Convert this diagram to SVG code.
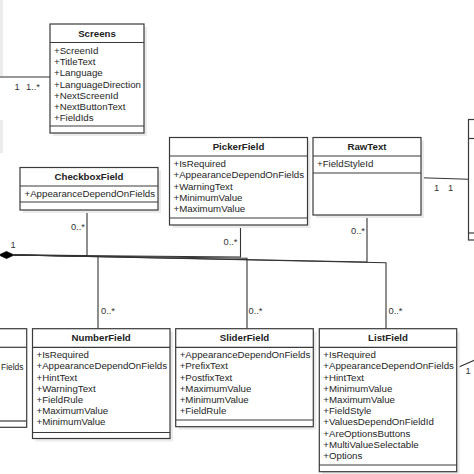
<svg xmlns="http://www.w3.org/2000/svg" width="474" height="474" viewBox="0 0 474 474">
<style>
.bg{fill:#ffffff}
.sh{fill:#ebebeb}
.box{fill:#ffffff;stroke:#3a3a3a;stroke-width:1.2}
.sep{stroke:#3a3a3a;stroke-width:1.2;fill:none}
.t{font-family:"Liberation Sans",Arial,sans-serif;font-size:9.7px;fill:#262626}
.h{font-family:"Liberation Sans",Arial,sans-serif;font-size:9.7px;font-weight:bold;fill:#222;text-anchor:middle}
.lbl{font-family:"Liberation Sans",Arial,sans-serif;font-size:9.3px;fill:#333}
.e{fill:none;stroke:#333;stroke-width:1.1}
</style>
<rect class="bg" x="0" y="0" width="474" height="474"/>
<rect class="sh" x="0" y="0" width="3" height="76"/>
<rect class="sh" x="0" y="120" width="3" height="33"/>

<g id="connectors">
  <line class="e" x1="0" y1="77" x2="50" y2="77"/>
  <polyline class="e" points="14,255 87,255.5 87,210"/>
  <polyline class="e" points="14,255 240.5,257 240.5,225"/>
  <polyline class="e" points="14,255 367,262 367,215"/>
  <polyline class="e" points="14,255 98,256.5 98,328.7"/>
  <polyline class="e" points="14,255 247,258.3 247,328.7"/>
  <polyline class="e" points="14,255 386,262.7 386,328.7"/>
  <line class="e" x1="421" y1="177.7" x2="468.5" y2="179.3"/>
  <line class="e" x1="456.7" y1="368" x2="475" y2="360"/>
  <polygon points="-1,255 6.5,251.5 14,255 6.5,258.5" fill="#000" stroke="#000" stroke-width="0.8"/>
  <text class="lbl" x="14.5" y="90.3">1</text>
  <text class="lbl" x="26" y="90.3">1..*</text>
  <text class="lbl" x="10.5" y="247.5">1</text>
  <text class="lbl" x="85" y="229.5" text-anchor="end">0..*</text>
  <text class="lbl" x="237.5" y="244.5" text-anchor="end">0..*</text>
  <text class="lbl" x="365" y="234" text-anchor="end">0..*</text>
  <text class="lbl" x="101" y="314">0..*</text>
  <text class="lbl" x="248.5" y="314">0..*</text>
  <text class="lbl" x="388.5" y="314">0..*</text>
  <text class="lbl" x="434" y="190.5">1</text>
  <text class="lbl" x="448" y="190.5">1</text>
  <text class="lbl" x="465.5" y="373.5">1</text>
</g>

<g id="Screens">
  <rect class="sh" x="53" y="27" width="94" height="109"/>
  <rect class="box" x="50" y="24" width="94" height="109"/>
  <line class="sep" x1="50" y1="42.5" x2="144" y2="42.5"/>
  <line class="sep" x1="50" y1="126" x2="144" y2="126"/>
  <text class="h" x="97" y="36.5">Screens</text>
  <text class="t" x="54" y="54">+ScreenId</text>
  <text class="t" x="54" y="65.2">+TitleText</text>
  <text class="t" x="54" y="76.4">+Language</text>
  <text class="t" x="54" y="87.6">+LanguageDirection</text>
  <text class="t" x="54" y="98.8">+NextScreenId</text>
  <text class="t" x="54" y="110">+NextButtonText</text>
  <text class="t" x="54" y="121.2">+FieldIds</text>
</g>

<g id="CheckboxField">
  <rect class="sh" x="23" y="170.5" width="138" height="42.5"/>
  <rect class="box" x="20" y="167.5" width="138" height="42.5"/>
  <line class="sep" x1="20" y1="186" x2="158" y2="186"/>
  <line class="sep" x1="20" y1="202" x2="158" y2="202"/>
  <text class="h" x="89" y="179.5">CheckboxField</text>
  <text class="t" x="24.5" y="197.4">+AppearanceDependOnFields</text>
</g>

<g id="PickerField">
  <rect class="sh" x="172.5" y="140.5" width="138" height="87.5"/>
  <rect class="box" x="169.5" y="137.5" width="138" height="87.5"/>
  <line class="sep" x1="169.5" y1="156" x2="307.5" y2="156"/>
  <line class="sep" x1="169.5" y1="218" x2="307.5" y2="218"/>
  <text class="h" x="238.5" y="149.8">PickerField</text>
  <text class="t" x="173.5" y="167.2">+IsRequired</text>
  <text class="t" x="173.5" y="178.4">+AppearanceDependOnFields</text>
  <text class="t" x="173.5" y="189.6">+WarningText</text>
  <text class="t" x="173.5" y="200.8">+MinimumValue</text>
  <text class="t" x="173.5" y="212">+MaximumValue</text>
</g>

<g id="RawText">
  <rect class="sh" x="316" y="140.5" width="108" height="77.5"/>
  <rect class="box" x="313" y="137.5" width="108" height="77.5"/>
  <line class="sep" x1="313" y1="156" x2="421" y2="156"/>
  <line class="sep" x1="313" y1="173" x2="421" y2="173"/>
  <text class="h" x="367" y="149.8">RawText</text>
  <text class="t" x="317" y="167.2">+FieldStyleId</text>
</g>

<g id="RightBox">
  <rect class="box" x="468.5" y="119.5" width="30" height="120.5"/>
  <line class="sep" x1="468.5" y1="138.5" x2="480" y2="138.5"/>
  <line class="sep" x1="468.5" y1="233" x2="480" y2="233"/>
</g>

<g id="LeftBox">
  <rect class="box" x="-120" y="328.7" width="146.7" height="98.6"/>
  <line class="sep" x1="-1" y1="347.3" x2="26.7" y2="347.3"/>
  <line class="sep" x1="-1" y1="421" x2="26.7" y2="421"/>
  <text class="t" x="1" y="369.5" textLength="22.5" lengthAdjust="spacingAndGlyphs">Fields</text>
</g>

<g id="NumberField">
  <rect class="sh" x="35.5" y="331.7" width="137.5" height="109.8"/>
  <rect class="box" x="32.5" y="328.7" width="137.5" height="109.8"/>
  <line class="sep" x1="32.5" y1="347.3" x2="170" y2="347.3"/>
  <line class="sep" x1="32.5" y1="432.5" x2="170" y2="432.5"/>
  <text class="h" x="101.2" y="340.8">NumberField</text>
  <text class="t" x="36.5" y="358.2">+IsRequired</text>
  <text class="t" x="36.5" y="369.4">+AppearanceDependOnFields</text>
  <text class="t" x="36.5" y="380.6">+HintText</text>
  <text class="t" x="36.5" y="391.8">+WarningText</text>
  <text class="t" x="36.5" y="403">+FieldRule</text>
  <text class="t" x="36.5" y="414.2">+MaximumValue</text>
  <text class="t" x="36.5" y="425.4">+MinimumValue</text>
</g>

<g id="SliderField">
  <rect class="sh" x="178.7" y="331.7" width="137.6" height="98"/>
  <rect class="box" x="175.7" y="328.7" width="137.6" height="98"/>
  <line class="sep" x1="175.7" y1="347.3" x2="313.3" y2="347.3"/>
  <line class="sep" x1="175.7" y1="420" x2="313.3" y2="420"/>
  <text class="h" x="244.5" y="340.8">SliderField</text>
  <text class="t" x="179.7" y="358.2">+AppearanceDependOnFields</text>
  <text class="t" x="179.7" y="369.4">+PrefixText</text>
  <text class="t" x="179.7" y="380.6">+PostfixText</text>
  <text class="t" x="179.7" y="391.8">+MaximumValue</text>
  <text class="t" x="179.7" y="403">+MinimumValue</text>
  <text class="t" x="179.7" y="414.2">+FieldRule</text>
</g>

<g id="ListField">
  <rect class="sh" x="322.3" y="331.7" width="137.4" height="143"/>
  <rect class="box" x="319.3" y="328.7" width="137.4" height="143"/>
  <line class="sep" x1="319.3" y1="347.3" x2="456.7" y2="347.3"/>
  <line class="sep" x1="319.3" y1="465" x2="456.7" y2="465"/>
  <text class="h" x="388" y="340.8">ListField</text>
  <text class="t" x="323.3" y="358.2">+IsRequired</text>
  <text class="t" x="323.3" y="369.4">+AppearanceDependOnFields</text>
  <text class="t" x="323.3" y="380.6">+HintText</text>
  <text class="t" x="323.3" y="391.8">+MinimumValue</text>
  <text class="t" x="323.3" y="403">+MaximumValue</text>
  <text class="t" x="323.3" y="414.2">+FieldStyle</text>
  <text class="t" x="323.3" y="425.4">+ValuesDependOnFieldId</text>
  <text class="t" x="323.3" y="436.6">+AreOptionsButtons</text>
  <text class="t" x="323.3" y="447.8">+MultiValueSelectable</text>
  <text class="t" x="323.3" y="459">+Options</text>
</g>
</svg>
